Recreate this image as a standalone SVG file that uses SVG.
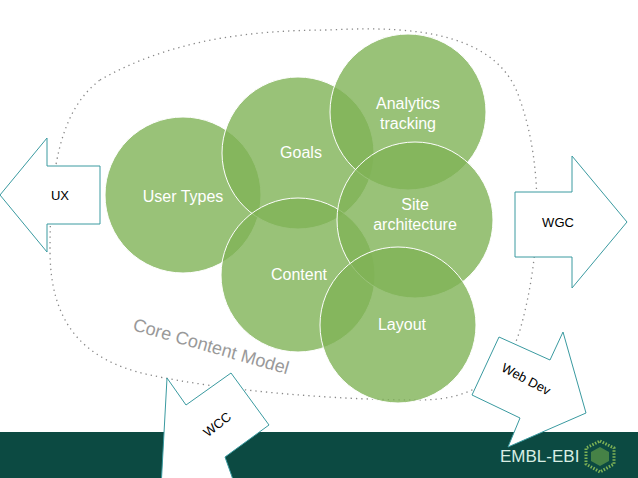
<svg xmlns="http://www.w3.org/2000/svg" width="638" height="478" viewBox="0 0 638 478">
<style>
.c{fill:#7fb356;fill-opacity:0.8;stroke:#fff;stroke-width:1}
.a{fill:#fff;stroke:#3a9aa0;stroke-width:1}
.t{font-family:"Liberation Sans",Arial,sans-serif;font-size:16px;fill:#fff;text-anchor:middle}
.k{font-family:"Liberation Sans",Arial,sans-serif;font-size:13px;fill:#000;text-anchor:middle}
</style>
<rect width="638" height="478" fill="#fff"/>
<g id="boundary"><path d="M100,80 C170,40 250,30 330,30 C420,25 500,35 520,100 C545,170 540,260 520,330 C505,380 470,400 420,400 C330,400 220,390 150,375 C80,360 50,320 50,250 C50,170 60,110 100,80 Z" fill="none" stroke="#888" stroke-width="1.3" stroke-dasharray="1.3,4"/></g>
<rect id="band" x="0" y="432" width="638" height="46" fill="#0c4a42"/>
<g id="circles">
<circle id="user-types" class="c" cx="183" cy="195" r="78"/>
<circle id="goals" class="c" cx="298" cy="153" r="76"/>
<circle id="content" class="c" cx="298" cy="275" r="77"/>
<circle id="analytics" class="c" cx="408" cy="112" r="78"/>
<circle id="site" class="c" cx="415" cy="220" r="78"/>
<circle id="layout" class="c" cx="398" cy="325" r="78"/>
</g>
<g id="labels">
<text class="t" x="183" y="202">User Types</text>
<text class="t" x="301" y="158">Goals</text>
<text class="t" x="299" y="280">Content</text>
<text class="t" x="408" y="109">Analytics</text><text class="t" x="408" y="129">tracking</text>
<text class="t" x="415" y="210">Site</text><text class="t" x="415" y="230">architecture</text>
<text class="t" x="402" y="330">Layout</text>
</g>
<text id="ccm" x="132" y="330" transform="rotate(16 132 330)" font-family="Liberation Sans,Arial,sans-serif" font-size="18" fill="#999">Core Content Model</text>
<g id="ux"><polygon class="a" points="0,195 47,138 47,166 100,166 100,224 47,224 47,252"/><text class="k" x="60" y="200">UX</text></g>
<g id="wgc"><polygon class="a" points="515,192 572,192 572,156 627,222 572,288 572,257 515,257"/><text class="k" x="558" y="227">WGC</text></g>
<g id="webdev"><polygon class="a" points="499,337 550,360 563,332 586,413 508,447 520,418 472,395"/><text class="k" x="0" y="0" transform="translate(524,383) rotate(28)">Web Dev</text></g>
<g id="wcc"><polygon class="a" points="167,378 186,405 231,373 269,425 225,457 236,488 161,488"/><text class="k" x="0" y="0" transform="translate(220,428) rotate(-38)">WCC</text></g>
<g id="logo"><text x="500" y="462" font-family="Liberation Sans,Arial,sans-serif" font-size="17" fill="#d8eee4">EMBL-EBI</text>
<polygon points="600,441 614,448 614,464 600,472 586,464 586,448" fill="none" stroke="#7fb356" stroke-width="3" stroke-dasharray="1.5,1.5"/>
<polygon points="600,447 609,452 609,461 600,466 591,461 591,452" fill="#5f9a48" opacity="0.7"/></g>
</svg>
